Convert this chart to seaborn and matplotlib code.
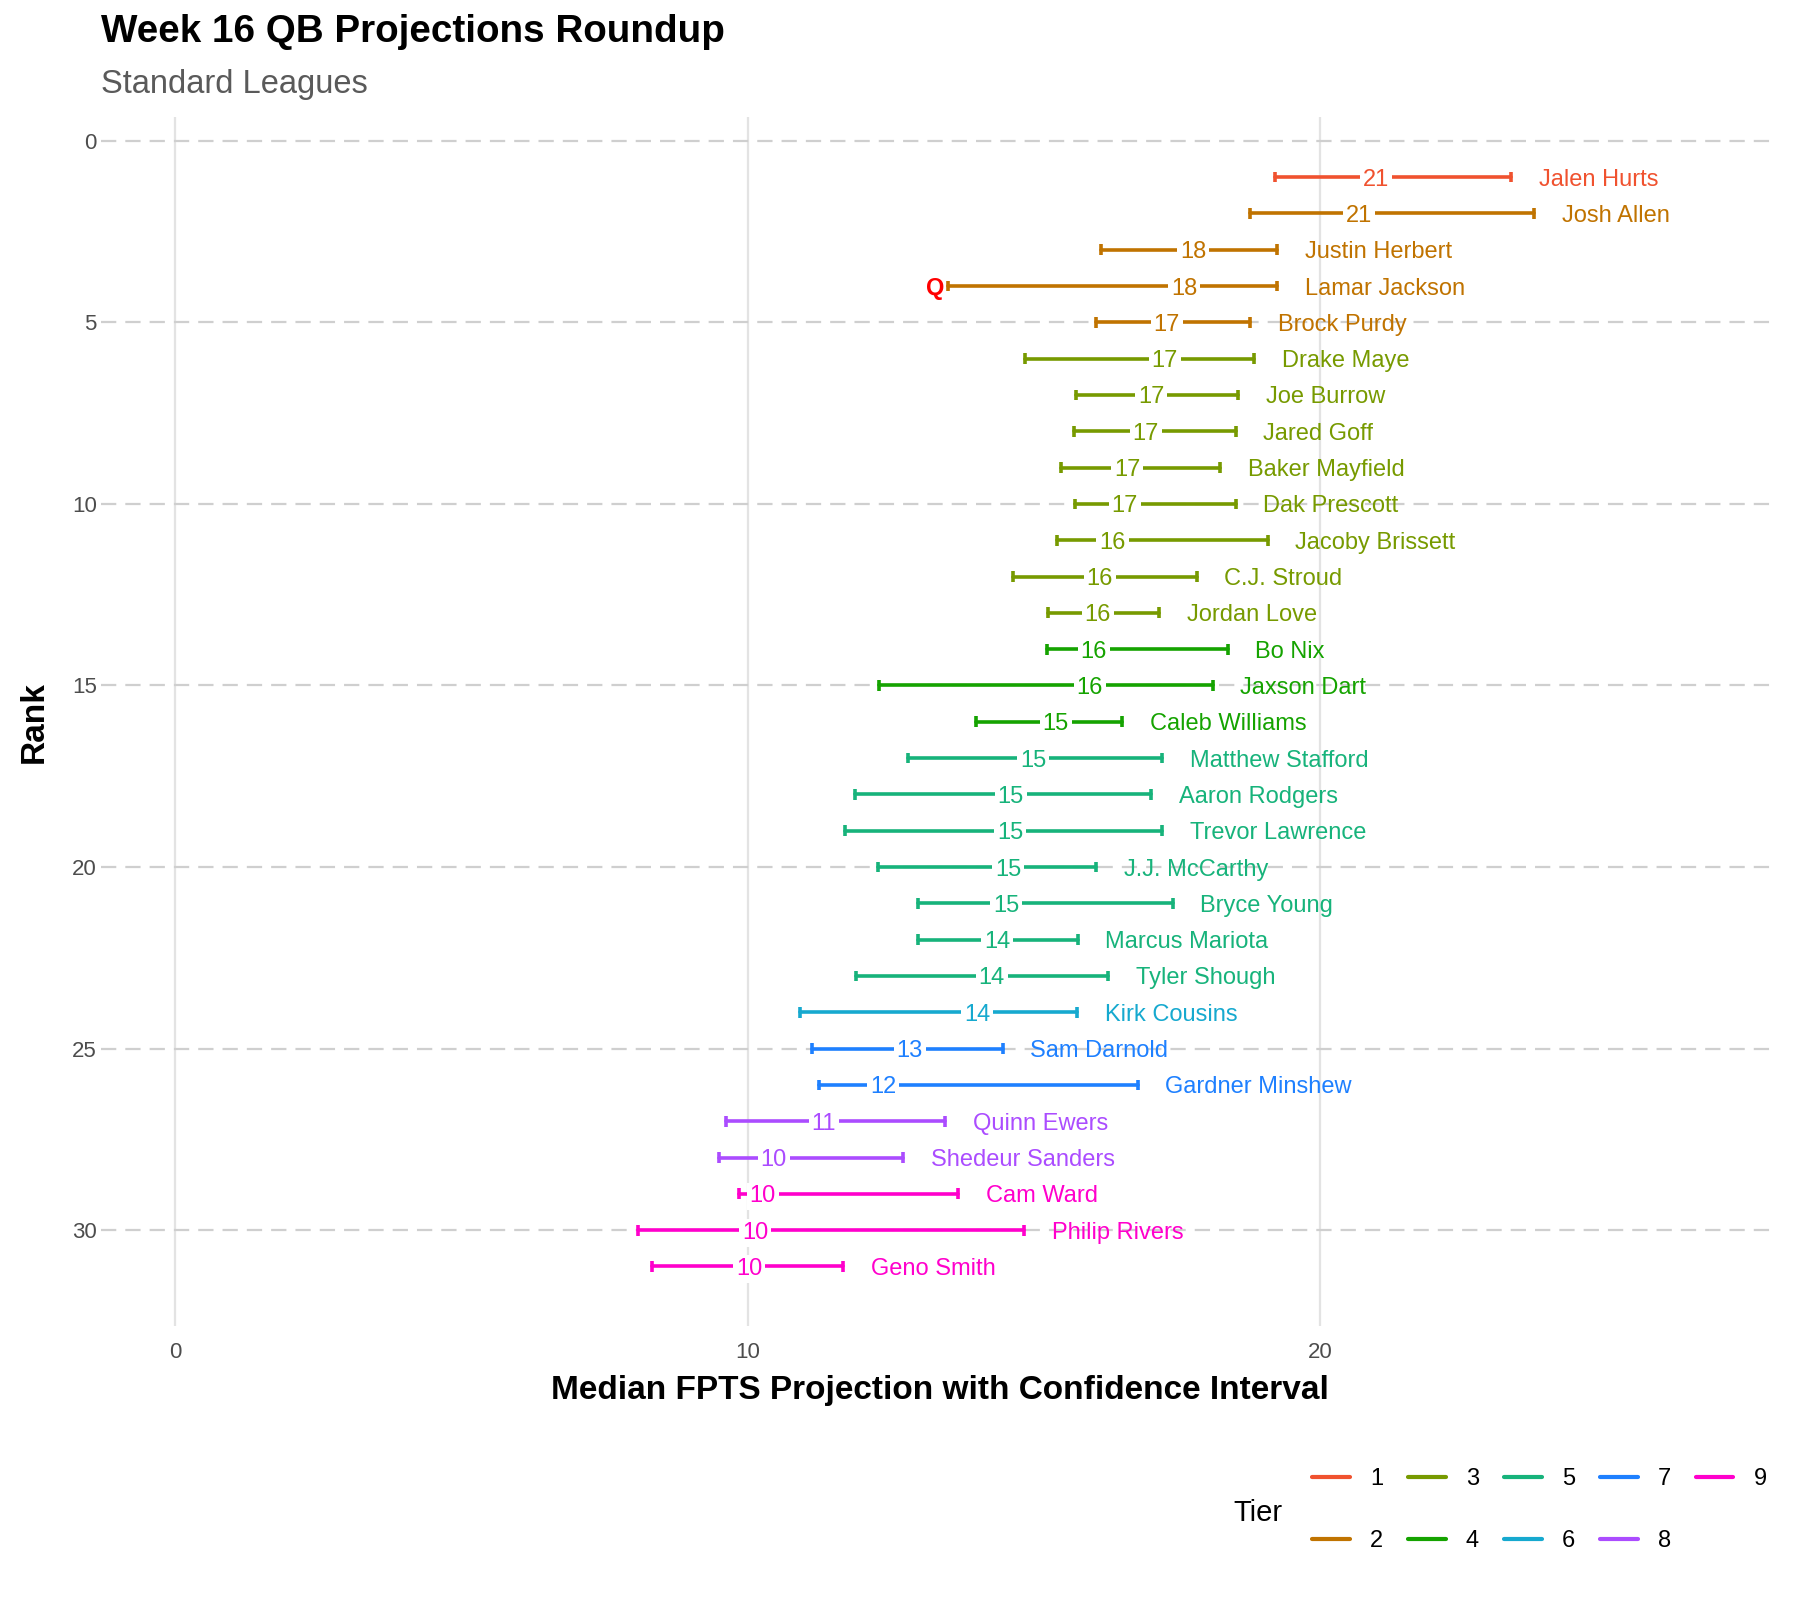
import numpy as np
import pandas as pd
import matplotlib
matplotlib.use("Agg")
import matplotlib.pyplot as plt
import seaborn as sns
from matplotlib.lines import Line2D

# ---------------- data ----------------
players = ["Jalen Hurts", "Josh Allen", "Justin Herbert", "Lamar Jackson", "Brock Purdy",
           "Drake Maye", "Joe Burrow", "Jared Goff", "Baker Mayfield", "Dak Prescott",
           "Jacoby Brissett", "C.J. Stroud", "Jordan Love", "Bo Nix", "Jaxson Dart",
           "Caleb Williams", "Matthew Stafford", "Aaron Rodgers", "Trevor Lawrence",
           "J.J. McCarthy", "Bryce Young", "Marcus Mariota", "Tyler Shough", "Kirk Cousins",
           "Sam Darnold", "Gardner Minshew", "Quinn Ewers", "Shedeur Sanders", "Cam Ward",
           "Philip Rivers", "Geno Smith"]
ranks = list(range(1, 32))
tiers = [1, 2, 2, 2, 2, 3, 3, 3, 3, 3, 3, 3, 3, 4, 4, 4, 5, 5, 5, 5, 5, 5, 5, 6, 7, 7, 8, 8, 9, 9, 9]
medians = [20.97, 20.67, 17.78, 17.62, 17.32, 17.28, 17.05, 16.95, 16.63, 16.58, 16.37,
           16.15, 16.11, 16.04, 15.97, 15.38, 14.98, 14.59, 14.58, 14.55, 14.51, 14.36,
           14.26, 14.01, 12.83, 12.36, 11.33, 10.45, 10.26, 10.13, 10.02]
lowers = [19.20, 18.77, 16.17, 13.49, 16.08, 14.85, 15.74, 15.69, 15.47, 15.71, 15.40,
          14.63, 15.24, 15.22, 12.30, 13.98, 12.79, 11.87, 11.69, 12.28, 12.97, 12.97,
          11.89, 10.91, 11.13, 11.24, 9.62, 9.49, 9.84, 8.09, 8.33]
uppers = [23.33, 23.74, 19.24, 19.24, 18.77, 18.84, 18.57, 18.52, 18.25, 18.52, 19.08,
          17.84, 17.19, 18.38, 18.12, 16.54, 17.23, 17.05, 17.23, 16.09, 17.42, 15.76,
          16.29, 15.75, 14.45, 16.81, 13.45, 12.71, 13.68, 14.83, 11.66]
questionable = ["Lamar Jackson"]

tier_levels = ["1", "2", "3", "4", "5", "6", "7", "8", "9"]
tier_colors = ["#F0522F", "#C07300", "#779A00", "#15A300", "#17B37B",
               "#16A9CF", "#1E80FF", "#AB4CFF", "#FF00CC"]

title = "Week 16 QB Projections Roundup"
subtitle = "Standard Leagues"
x_title = "Median FPTS Projection with Confidence Interval"
y_title = "Rank"
legend_title = "Tier"
x_ticks = [0, 10, 20]
y_ticks = [0, 5, 10, 15, 20, 25, 30]

# ---------------- build ----------------
sns.set_theme(style="white")
plt.rcParams["font.family"] = ["Liberation Sans", "DejaVu Sans"]
plt.rcParams["lines.scale_dashes"] = False
plt.rcParams["text.color"] = "black"

palette = dict(zip(tier_levels, tier_colors))
df = pd.DataFrame({"player": players, "rank": ranks, "tier": [str(t) for t in tiers],
                   "median": medians, "lower": lowers, "upper": uppers})
long = pd.concat([df.assign(x=df["lower"]), df.assign(x=df["upper"])], ignore_index=True)

fig = plt.figure(figsize=(18, 16), dpi=100)
ax = fig.add_axes([0.056, 0.171, 0.932, 0.756])

ax.set_axisbelow(True)
ax.xaxis.grid(True, color="#E3E3E3", linewidth=1.6, linestyle="-")
ax.yaxis.grid(True, color="#CFCFCF", linewidth=1.6, linestyle=(0, (11, 6.5)))

sns.lineplot(data=long, x="x", y="rank", hue="tier", units="player", estimator=None,
             palette=palette, linewidth=2.6, legend=False, ax=ax)
sns.scatterplot(data=long, x="x", y="rank", hue="tier", palette=palette, marker="|",
                s=60, linewidth=2.6, legend=False, ax=ax, zorder=3)

for _, r in df.iterrows():
    c = palette[r["tier"]]
    ax.text(r["median"], r["rank"], str(int(np.floor(r["median"] + 0.5))), color=c,
            fontsize=17, ha="center", va="center_baseline", zorder=4,
            bbox=dict(boxstyle="square,pad=0.12", fc="white", ec="none"))
    ax.annotate(r["player"], xy=(r["upper"], r["rank"]), xytext=(20, 0),
                textcoords="offset points", ha="left", va="center_baseline", color=c,
                fontsize=17)
    if r["player"] in questionable:
        ax.annotate("Q", xy=(r["lower"], r["rank"]), xytext=(-2, 0),
                    textcoords="offset points", ha="right", va="center_baseline",
                    color="#FF0000", fontsize=17, fontweight="bold")

ax.set_xlim(-1.3, 28.0)
ax.set_ylim(32.65, -0.66)
ax.set_xticks(x_ticks)
ax.set_yticks(y_ticks)
ax.tick_params(axis="both", length=0, labelsize=16, colors="#4D4D4D")
ax.tick_params(axis="x", pad=11)
ax.tick_params(axis="y", pad=3)
for s in ax.spines.values():
    s.set_visible(False)

ax.set_xlabel(x_title, fontsize=24, fontweight="bold", color="black", labelpad=9)
ax.set_ylabel(y_title, fontsize=24, fontweight="bold", color="black", labelpad=16)

fig.text(0.056, 1 - 32 / 1600, title, fontsize=27.8, fontweight="bold", color="black",
         va="center", ha="left")
fig.text(0.056, 1 - 84 / 1600, subtitle, fontsize=23.5, color="#5A5A5A", va="center", ha="left")

handles = [Line2D([0], [0], color=c, linewidth=3) for c in tier_colors]
fig.legend(handles, tier_levels, ncol=5, loc="center left", bbox_to_anchor=(0.7225, 0.056),
           frameon=False, fontsize=17, handlelength=1.6, handletextpad=0.85,
           columnspacing=1.05, labelspacing=1.7, borderpad=0)
fig.text(0.699, 0.0545, legend_title, fontsize=21, ha="center", va="center")

fig.savefig("out.png", dpi=100, facecolor="white")
